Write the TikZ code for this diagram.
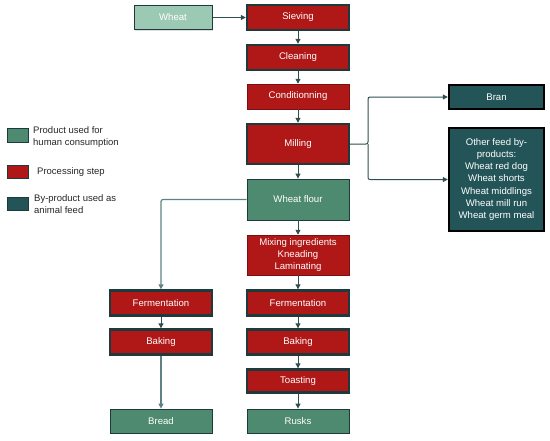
\documentclass[tikz,border=0pt]{standalone}
\usepackage{fontspec}
\setmainfont{Liberation Sans}
\usetikzlibrary{arrows.meta,shadows}
\definecolor{procred}{HTML}{B01717}
\definecolor{humgreen}{HTML}{4E8A6F}
\definecolor{wheatgreen}{HTML}{9CC9B4}
\definecolor{feedteal}{HTML}{235457}
\definecolor{edgedark}{HTML}{1E3A3C}
\definecolor{arrowdark}{HTML}{2E4E50}
\definecolor{arrowgrey}{HTML}{5E8283}
\tikzset{
  x=1pt,y=-1pt,
  base/.style={text=white,font=\fontsize{9.6}{12.3}\selectfont,align=center,inner sep=0pt,
    drop shadow={shadow xshift=1pt,shadow yshift=-1pt,opacity=0.25}},
  proc/.style={base,fill=procred,draw=edgedark,line width=2.4pt},
  procthin/.style={base,fill=procred,draw=procred!70!black,line width=0.5pt},
  hum/.style={base,fill=humgreen,draw=edgedark,line width=0.8pt},
  wheat/.style={base,fill=wheatgreen,draw=edgedark,line width=1pt},
  feed/.style={base,fill=feedteal,draw=black,line width=2.4pt},
  legbox/.style={draw=edgedark,line width=0.8pt,inner sep=0pt,
    drop shadow={shadow xshift=1pt,shadow yshift=-1pt,opacity=0.25}},
  legtext/.style={font=\fontsize{9.5}{12}\selectfont,align=left,anchor=west,inner sep=0pt,text=black!85},
  arr/.style={draw=arrowdark,line width=1pt,-{Triangle[length=5pt,width=5pt]}},
  arrg/.style={draw=arrowgrey,line width=1.2pt,-{Triangle[length=5pt,width=5pt]},rounded corners=2pt},
  arrb/.style={draw=arrowdark,line width=1pt,-{Triangle[length=5pt,width=5pt]},rounded corners=2pt},
}
\begin{document}
\begin{tikzpicture}
\useasboundingbox (0,0) rectangle (550,440);
\node[wheat,minimum width=78,minimum height=24] (wheat) at (173,17.5) {Wheat};
\node[proc,minimum width=102,minimum height=25] (siev) at (298,17.5) {Sieving};
\node[proc,minimum width=102,minimum height=25] (clean) at (298,57.5) {Cleaning};
\node[procthin,minimum width=102,minimum height=25] (cond) at (298,96.5) {Conditionning};
\node[proc,minimum width=102,minimum height=40] (mill) at (298,144) {Milling};
\node[hum,minimum width=102,minimum height=41] (flour) at (298,199.5) {Wheat flour};
\node[procthin,minimum width=102,minimum height=40] (mix) at (298,255) {Mixing ingredients\\Kneading\\Laminating};
\node[proc,minimum width=102,minimum height=25] (fermr) at (298,303) {Fermentation};
\node[proc,minimum width=102,minimum height=25] (fermL) at (161,303) {Fermentation};
\node[proc,minimum width=102,minimum height=25] (bakr) at (298,342) {Baking};
\node[proc,minimum width=102,minimum height=25] (bakL) at (161,342) {Baking};
\node[proc,minimum width=102,minimum height=23] (toast) at (298,381) {Toasting};
\node[hum,minimum width=102,minimum height=24] (bread) at (161,421) {Bread};
\node[hum,minimum width=102,minimum height=24] (rusks) at (298,421) {Rusks};
\node[feed,minimum width=95,minimum height=24] (bran) at (496.5,97) {Bran};
\node[feed,minimum width=95,minimum height=103] (other) at (496.5,179.5) {Other feed by-\\products:\\Wheat red dog\\Wheat shorts\\Wheat middlings\\Wheat mill run\\Wheat germ meal};
% legend
\node[legbox,fill=humgreen,minimum width=21,minimum height=14] (lg1) at (17.5,135) {};
\node[legtext] (lt1) at (33,137) {Product used for\\human consumption};
\node[legbox,fill=procred,minimum width=21,minimum height=13] (lg2) at (17.5,171.5) {};
\node[legtext] (lt2) at (37,172) {Processing step};
\node[legbox,fill=feedteal,minimum width=21,minimum height=13] (lg3) at (17.5,203.5) {};
\node[legtext] (lt3) at (34,204) {By-product used as\\animal feed};
% connectors
\draw[arr] (wheat) -- (siev);
\draw[arr] (siev) -- (clean);
\draw[arr] (clean) -- (cond);
\draw[arr] (cond) -- (mill);
\draw[arr] (mill) -- (flour);
\draw[arr] (flour) -- (mix);
\draw[arr] (mix) -- (fermr);
\draw[arr] (fermr) -- (bakr);
\draw[arr] (bakr) -- (toast);
\draw[arr] (toast) -- (rusks);
\draw[arr] (fermL) -- (bakL);
\draw[arrg] (bakL) -- (bread);
\draw[arrg] (flour.west) -| (fermL.north);
\coordinate (split) at (368,144);
\draw[arrb] (mill.east) -- (split) |- (bran.west);
\draw[arrb] (split) |- (other.west);
\end{tikzpicture}
\end{document}
